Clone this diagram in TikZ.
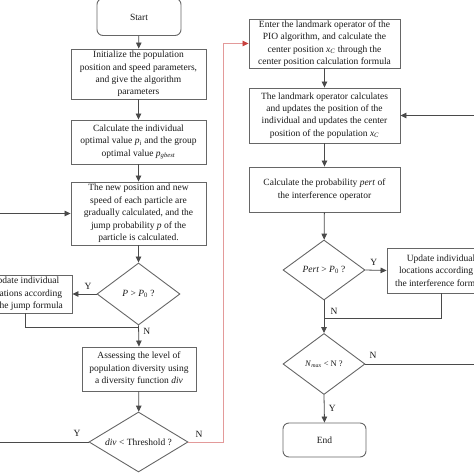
\documentclass[tikz,border=0pt]{standalone}
\usepackage{fontspec}
\setmainfont{Liberation Serif}
\usetikzlibrary{arrows.meta,shapes.geometric}
\definecolor{ln}{HTML}{4A4A4A}
\definecolor{bd}{HTML}{666666}
\definecolor{rl}{HTML}{E39A9A}
\definecolor{ra}{HTML}{C8413F}
\newcommand{\vi}[1]{\textit{#1}}
\tikzset{
  box/.style={draw=bd, line width=0.9pt, align=center, inner sep=1pt,
    font=\fontsize{9.5}{12.4}\selectfont, text=black!90},
  term/.style={box, rounded corners=6pt},
  dia/.style={draw=bd, line width=0.9pt, diamond, inner sep=0pt, aspect=1},
  dlab/.style={font=\fontsize{9.5}{11}\selectfont, text=black!90},
  conn/.style={draw=ln, line width=0.8pt},
  arr/.style={conn, -{Triangle[length=6pt,width=5.5pt]}},
  yn/.style={font=\fontsize{9.5}{11}\selectfont, text=black!90},
}
\begin{document}
\begin{tikzpicture}[x=1pt,y=-1pt]
\useasboundingbox (0,0) rectangle (474,474);
\clip (0,0) rectangle (474,474);
% left column
\node[term, minimum width=84pt, minimum height=37pt] (start) at (139,17) {Start};
\node[box, minimum width=135pt, minimum height=50pt] (init) at (138.5,74)
  {Initialize the population\\position and speed parameters,\\and give the algorithm\\parameters};
\node[box, minimum width=135pt, minimum height=44pt] (calc) at (138.5,142)
  {Calculate the individual\\optimal value \vi{p}\textsubscript{\vi{i}} and the group\\optimal value \vi{p}\textsubscript{\vi{gbest}}};
\node[box, minimum width=135pt, minimum height=63pt] (newpos) at (138.5,213.5)
  {The new position and new\\speed of each particle are\\gradually calculated, and the\\jump probability \vi{p} of the\\particle is calculated.};
\node[dia, minimum width=83pt, minimum height=62pt,
  label={[dlab]center:\vi{P} > \vi{P}\textsubscript{0} ?}] (d1) at (138.5,294) {};
\node[box, minimum width=94pt, minimum height=38pt] (lupd) at (25,294)
  {Update individual\\locations according\\to the jump formula};
\node[box, minimum width=114pt, minimum height=44pt] (assess) at (139,369)
  {Assessing the level of\\population diversity using\\a diversity function \vi{div}};
\node[dia, minimum width=99pt, minimum height=60pt,
  label={[dlab]center:\vi{div} < Threshold ?}] (d2) at (138.5,442) {};
% right column
\node[box, minimum width=151pt, minimum height=49pt] (enter) at (324.5,43.5)
  {Enter the landmark operator of the\\PIO algorithm, and calculate the\\center position \vi{x}\textsubscript{\vi{C}} through the\\center position calculation formula};
\node[box, minimum width=151pt, minimum height=55pt] (land) at (324.5,115.5)
  {The landmark operator calculates\\and updates the position of the\\individual and updates the center\\position of the population \vi{x}\textsubscript{\vi{C}}};
\node[box, minimum width=151pt, minimum height=45pt] (pert) at (324.5,189.5)
  {Calculate the probability \vi{pert} of\\the interference operator};
\node[dia, minimum width=82pt, minimum height=60pt,
  label={[dlab]center:\vi{Pert} > \vi{P}\textsubscript{0} ?}] (d3) at (324,270) {};
\node[box, minimum width=108pt, minimum height=45pt] (rupd) at (441,270.5)
  {Update individual\\locations according to\\the interference formula};
\node[dia, minimum width=82pt, minimum height=61pt,
  label={[dlab]center:{\fontsize{8.5}{10}\selectfont\vi{N}\textsubscript{\vi{max}} < N ?}}] (d4) at (324,364) {};
\node[term, minimum width=83pt, minimum height=34pt] (end) at (324.5,440) {End};
% coordinates
\coordinate (lj) at (138.5,327);
\coordinate (rj) at (324,318);
\coordinate (lloop) at (-10,442);
\coordinate (rloop) at (484,364);
\coordinate (redc) at (223,442);
% connectors left
\draw[arr] (start) -- (init);
\draw[arr] (init) -- (calc);
\draw[arr] (calc) -- (newpos);
\draw[arr] (newpos) -- (d1);
\draw[arr] (d1.west) -- (lupd.east) node[yn, pos=0.35, above=1pt] {Y};
\draw[conn] (lupd.south) |- (lj);
\draw[arr] (d1.south) -- (assess.north) node[yn, pos=0.3, right=1pt] {N};
\draw[arr] (assess) -- (d2);
\draw[arr] (d2.west) -- (lloop) |- (newpos.west);
\node[yn] at (77,433) {Y};
\draw[draw=rl, line width=0.8pt, -{Triangle[length=6pt,width=5.5pt,fill=ra,color=ra]}] (d2.east) -- (redc) |- (enter.west);
\node[yn] at (199,434) {N};
% connectors right
\draw[arr] (enter) -- (land);
\draw[arr] (land) -- (pert);
\draw[arr] (pert) -- (d3);
\draw[arr] (d3.east) -- (rupd.west) node[yn, pos=0.4, above=1pt] {Y};
\draw[conn] (rupd.south) |- (rj);
\draw[arr] (d3.south) -- (d4.north);
\node[yn] at (334,311) {N};
\draw[arr] (d4.east) -- (rloop) |- (land.east);
\node[yn] at (373,355) {N};
\draw[arr] (d4.south) -- (end.north) node[yn, midway, right=1pt] {Y};
\end{tikzpicture}
\end{document}
